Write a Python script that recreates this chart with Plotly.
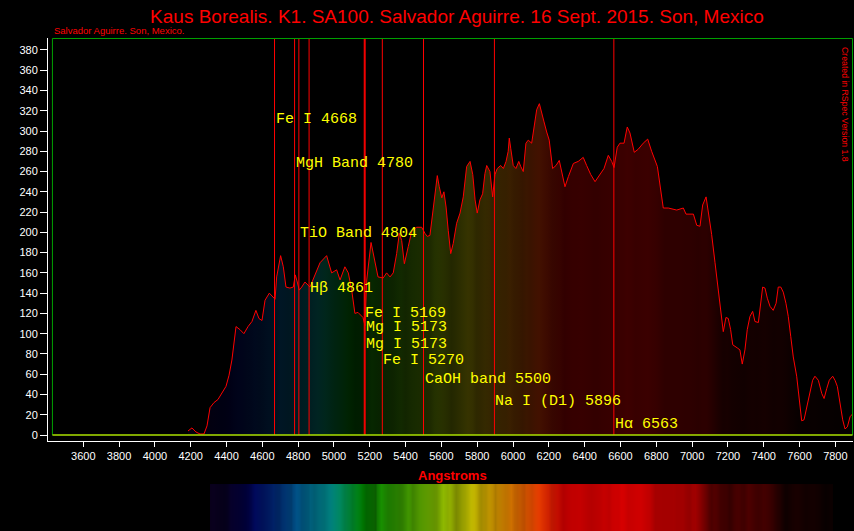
import numpy as np
import plotly.graph_objects as go

TITLE = "Kaus Borealis. K1. SA100. Salvador Aguirre. 16 Sept. 2015. Son, Mexico"
SUBTITLE = "Salvador Aguirre. Son, Mexico."
SIDE_TEXT = "Created in RSpec Version 1.8"
X_TITLE = "Angstroms"

FONT = "Liberation Sans, Arial, sans-serif"
NARROW = "Liberation Sans Narrow, Arial Narrow, Liberation Sans, sans-serif"
MONO = "Liberation Mono, Courier New, monospace"

wavelength = [
    4185, 4207, 4229, 4252, 4274, 4291, 4308, 4330, 4352, 4375,
    4397, 4414, 4430, 4453, 4475, 4497, 4520, 4542, 4564, 4581,
    4598, 4615, 4639, 4671, 4680, 4702, 4717, 4732, 4754, 4773,
    4784, 4795, 4806, 4820, 4838, 4866, 4922, 4959, 4978, 4987,
    5015, 5034, 5061, 5080, 5099, 5117, 5134, 5162, 5173, 5183,
    5207, 5229, 5246, 5275, 5294, 5313, 5331, 5350, 5365, 5378,
    5393, 5415, 5434, 5462, 5490, 5508, 5521, 5536, 5555, 5564,
    5577, 5588, 5602, 5614, 5626, 5638, 5652, 5666, 5685, 5704,
    5722, 5741, 5760, 5775, 5788, 5800, 5815, 5830, 5843, 5853,
    5871, 5886, 5899, 5912, 5931, 5946, 5961, 5973, 5979, 5987,
    6001, 6016, 6032, 6043, 6057, 6072, 6085, 6104, 6117, 6132,
    6147, 6160, 6173, 6188, 6202, 6221, 6240, 6258, 6272, 6290,
    6309, 6337, 6364, 6392, 6411, 6434, 6458, 6486, 6508, 6532,
    6551, 6564, 6582, 6597, 6620, 6631, 6638, 6653, 6677, 6699,
    6727, 6752, 6774, 6806, 6825, 6839, 6867, 6914, 6951, 6966,
    7007, 7026, 7044, 7059, 7078, 7092, 7109, 7128, 7146, 7160,
    7174, 7189, 7202, 7215, 7227, 7252, 7267, 7280, 7295, 7308,
    7323, 7338, 7351, 7370, 7383, 7394, 7407, 7420, 7435, 7453,
    7469, 7481, 7495, 7509, 7524, 7537, 7551, 7565, 7584, 7599,
    7612, 7625, 7640, 7658, 7673, 7686, 7705, 7724, 7737, 7752,
    7766, 7785, 7798, 7811, 7826, 7841, 7854, 7867, 7882, 7897,
]

intensity = [
    4, 7, 3, 1, 1, 9, 27, 32, 35, 41,
    48, 59, 74, 107, 104, 100, 107, 112, 123, 115,
    113, 133, 140, 134, 156, 177, 166, 146, 145, 146,
    158, 151, 143, 146, 151, 146, 170, 177, 166, 160,
    163, 153, 166, 160, 143, 120, 121, 116, 108, 153,
    190, 170, 156, 155, 160, 156, 160, 179, 199, 192,
    169, 186, 201, 205, 205, 199, 196, 197, 225, 242,
    256, 245, 234, 240, 225, 202, 179, 189, 209, 219,
    235, 265, 270, 257, 232, 219, 232, 238, 258, 266,
    260, 235, 257, 263, 266, 263, 270, 280, 293, 283,
    266, 263, 270, 265, 260, 288, 291, 288, 306, 321,
    327, 317, 309, 299, 291, 263, 266, 271, 260, 245,
    255, 268, 270, 274, 266, 257, 250, 257, 263, 276,
    270, 264, 284, 288, 288, 298, 304, 298, 279, 282,
    288, 292, 280, 265, 242, 224, 224, 222, 224, 218,
    218, 207, 206, 227, 235, 220, 198, 170, 143, 117,
    102, 116, 115, 104, 89, 86, 84, 70, 84, 104,
    117, 122, 112, 111, 130, 146, 145, 135, 127, 123,
    130, 146, 146, 141, 130, 117, 97, 77, 58, 31,
    14, 15, 28, 44, 54, 58, 54, 41, 36, 46,
    54, 58, 54, 48, 31, 15, 6, 8, 18, 21,
]

line_names = ["Fe I 4668", "MgH Band 4780", "TiO Band 4804", "H\u03b2 4861", "Fe I 5169",
              "Mg I 5173", "Mg I 5173", "Fe I 5270", "CaOH band 5500", "Na I (D1) 5896", "H\u03b1 6563"]
line_wavelengths = [4668, 4780, 4804, 4861, 5169, 5173, 5173, 5270, 5500, 5896, 6563]
label_heights = [311, 268, 199, 145, 120, 106, 89, 74, 55, 33, 10]

x_ticks = list(range(3600, 7801, 200))
y_ticks = list(range(0, 381, 20))

X_RANGE = [3403, 7898.5]
Y_RANGE = [-5.92, 391.8]
BAR_PIXELS = 623


def wl_rgb(wl):
    # rough wavelength -> colour (Bruton), stretched a bit towards red past 510 nm
    w = wl / 10.0
    if w > 510:
        w = 510 + (w - 510) * 1.13
    if w < 440:
        r, g, b = (440 - w) / 60, 0, 1
    elif w < 490:
        r, g, b = 0, (w - 440) / 50, 1
    elif w < 510:
        r, g, b = 0, 1, (510 - w) / 20
    elif w < 580:
        r, g, b = (w - 510) / 70, 1, 0
    elif w < 645:
        r, g, b = 1, (645 - w) / 65, 0
    else:
        r, g, b = 1, 0, 0
    w = wl / 10.0
    if w < 420:
        f = 0.3 + 0.7 * (w - 380) / 40
    elif w > 700:
        f = max(0.3 + 0.7 * (780 - w) / 80, 0.3)
    else:
        f = 1
    return np.array([r, g, b]) * f


wl = np.array(wavelength, dtype=float)
inten = np.array(intensity, dtype=float)
imax = inten.max()

# fill under the curve, coloured by wavelength
grad_wl = np.linspace(wl.min(), wl.max(), 160)
grad_i = np.interp(grad_wl, wl, inten) / imax
colorscale = []
for k, (w, i) in enumerate(zip(grad_wl, grad_i)):
    c = wl_rgb(w) * (0.06 + 0.2 * i ** 1.3) * 255
    colorscale.append([k / (len(grad_wl) - 1), "rgb(%d,%d,%d)" % tuple(c.astype(int))])

# synthetic spectrum strip under the chart
dx = (wl.max() - wl.min()) / BAR_PIXELS
bar_wl = wl.min() + dx * (np.arange(BAR_PIXELS) + 0.5)
bar_i = np.interp(bar_wl, wl, inten) / imax
bar_row = [(wl_rgb(w) * (0.1 + 0.8 * i) * 255).astype(int).tolist() for w, i in zip(bar_wl, bar_i)]

fig = go.Figure()

fig.add_trace(go.Scatter(
    x=wavelength, y=intensity,
    mode="lines",
    line=dict(color="#ff0000", width=1),
    fill="tozeroy",
    fillgradient=dict(type="horizontal", colorscale=colorscale,
                      start=float(wl.min()), stop=float(wl.max())),
    hoverinfo="skip",
))

fig.add_trace(go.Image(
    z=[bar_row], x0=bar_wl[0], dx=dx, y0=0, dy=1,
    xaxis="x2", yaxis="y2", hoverinfo="skip",
))

shapes = []
for w in line_wavelengths:
    shapes.append(dict(type="line", xref="x", yref="y", x0=w, x1=w, y0=0, y1=391.5,
                       line=dict(color="#ff0000", width=1)))
# green plot frame and yellow baseline
shapes.append(dict(type="rect", xref="paper", yref="paper", x0=0.0055, x1=0.9994, y0=0.1947, y1=0.999,
                   line=dict(color="#00a000", width=1)))
shapes.append(dict(type="line", xref="paper", yref="y", x0=0.0055, x1=0.9994, y0=0, y1=0,
                   line=dict(color="#ffff00", width=1.2)))

annotations = []
for name, w, h in zip(line_names, line_wavelengths, label_heights):
    annotations.append(dict(x=w, y=h, xref="x", yref="y", text=name, showarrow=False,
                            xanchor="left", yanchor="middle", xshift=-1,
                            font=dict(family=MONO, size=15, color="#ffff00")))
annotations.append(dict(x=0.005, y=1.0142, xref="paper", yref="paper", text=SUBTITLE, showarrow=False,
                        xanchor="left", yanchor="middle", font=dict(family=FONT, size=9.5, color="#ff0000")))
annotations.append(dict(x=0.990, y=0.864, xref="paper", yref="paper", text=SIDE_TEXT, showarrow=False,
                        textangle=90, xanchor="center", yanchor="middle",
                        font=dict(family=NARROW, size=8.7, color="#ff0000")))
annotations.append(dict(x=0.502, y=0.1116, xref="paper", yref="paper", text="<b>" + X_TITLE + "</b>",
                        showarrow=False, xanchor="center", yanchor="middle",
                        font=dict(family=NARROW, size=13, color="#ff0000")))

axis_font = dict(family=FONT, size=11, color="#ffffff")

fig.update_layout(
    width=854, height=531,
    paper_bgcolor="#000000", plot_bgcolor="#000000",
    margin=dict(l=48, r=1, t=38, b=0),
    showlegend=False,
    title=dict(text=TITLE, x=0.508, xref="paper", xanchor="center", y=0.97, yref="container", yanchor="middle",
               font=dict(family=FONT, size=19, color="#ff0000")),
    xaxis=dict(domain=[0, 1], range=X_RANGE, anchor="y", tickmode="array", tickvals=x_ticks,
               ticks="outside", ticklen=5, tickcolor="#ffffff", showline=True, linecolor="#ffffff",
               showgrid=False, zeroline=False, tickfont=axis_font, automargin=False),
    yaxis=dict(domain=[0.18256, 1], range=Y_RANGE, anchor="x", tickmode="array", tickvals=y_ticks,
               ticks="outside", ticklen=7, tickcolor="#ffffff", showline=True, linecolor="#ffffff",
               showgrid=False, zeroline=False, tickfont=axis_font, automargin=False),
    xaxis2=dict(domain=[0.2012, 0.9752], range=[wl.min(), wl.max()], anchor="y2", visible=False),
    yaxis2=dict(domain=[0, 0.0953], range=[0.5, -0.5], anchor="x2", visible=False, scaleanchor=False),
    shapes=shapes,
    annotations=annotations,
)

# page margin off so the 854x531 figure sits at the window's corner
fig.write_html("out.html", config={"displayModeBar": False},
               post_script="document.body.style.margin='0';")
